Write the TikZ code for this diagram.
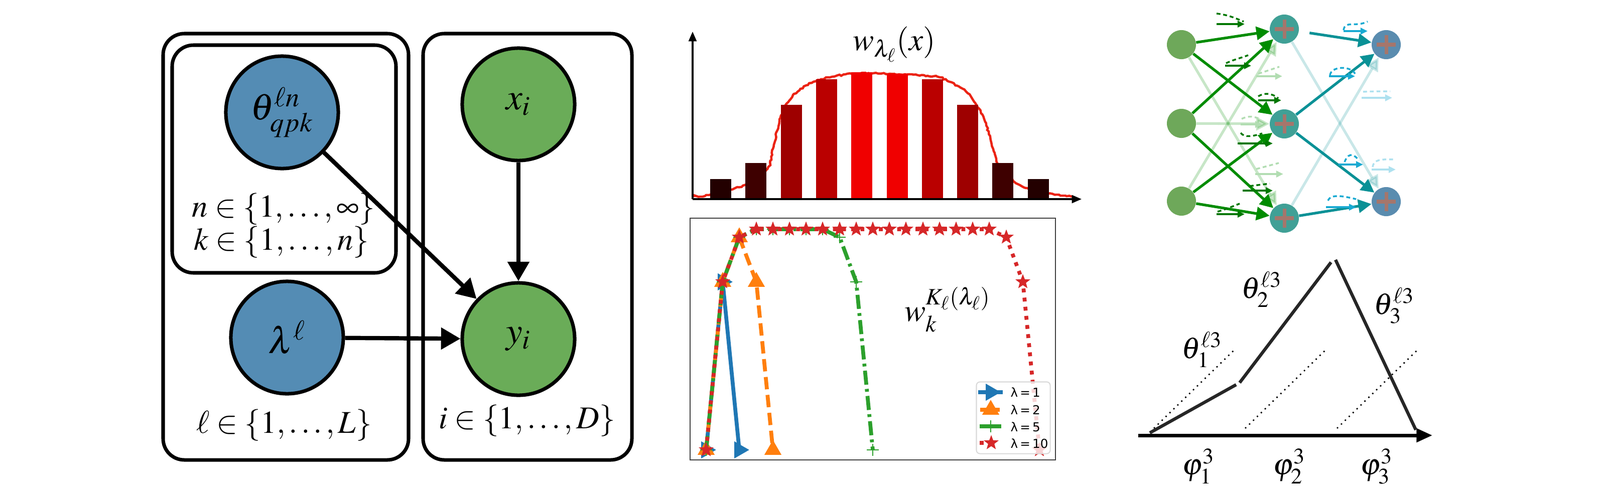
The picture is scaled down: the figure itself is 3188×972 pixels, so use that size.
\documentclass[tikz,border=0pt]{standalone}
\usepackage{mathptmx}
\usepackage[no-math]{fontspec}
\usetikzlibrary{arrows.meta,calc,positioning,shapes.geometric,decorations.pathmorphing,plotmarks}
\newfontfamily\legendfont{DejaVu Sans}
\definecolor{pgmblue}{RGB}{84,140,180}
\definecolor{pgmgreen}{RGB}{106,172,88}
\definecolor{barA}{RGB}{35,0,0}
\definecolor{barB}{RGB}{62,0,0}
\definecolor{barC}{RGB}{158,0,0}
\definecolor{barD}{RGB}{186,0,0}
\definecolor{barE}{RGB}{240,0,0}
\definecolor{fitred}{RGB}{235,35,20}
\definecolor{tabblue}{HTML}{1F77B4}
\definecolor{taborange}{HTML}{FF7F0E}
\definecolor{tabgreen}{HTML}{2CA02C}
\definecolor{tabred}{HTML}{D62728}
\definecolor{nnin}{RGB}{110,168,90}
\definecolor{nnhid}{RGB}{64,160,150}
\definecolor{nnout}{RGB}{90,140,175}
\definecolor{pluscol}{RGB}{165,118,108}
\definecolor{nngreen}{RGB}{0,140,0}
\definecolor{nnteal}{RGB}{10,145,150}
\definecolor{nncyan}{RGB}{25,170,210}
\pgfdeclareplotmark{fivestar}{%
  \pgfpathmoveto{\pgfpointpolar{90}{\pgfplotmarksize}}%
  \pgfpathlineto{\pgfpointpolar{126}{0.42\pgfplotmarksize}}%
  \pgfpathlineto{\pgfpointpolar{162}{\pgfplotmarksize}}%
  \pgfpathlineto{\pgfpointpolar{198}{0.42\pgfplotmarksize}}%
  \pgfpathlineto{\pgfpointpolar{234}{\pgfplotmarksize}}%
  \pgfpathlineto{\pgfpointpolar{270}{0.42\pgfplotmarksize}}%
  \pgfpathlineto{\pgfpointpolar{306}{\pgfplotmarksize}}%
  \pgfpathlineto{\pgfpointpolar{342}{0.42\pgfplotmarksize}}%
  \pgfpathlineto{\pgfpointpolar{18}{\pgfplotmarksize}}%
  \pgfpathlineto{\pgfpointpolar{54}{0.42\pgfplotmarksize}}%
  \pgfpathclose\pgfusepathqfillstroke}

\begin{document}
\begin{tikzpicture}[x=0.01cm, y=-0.01cm,
  pgmnode/.style={circle, draw, line width=2pt, minimum size=2.24cm, inner sep=0pt, font=\fontsize{21}{23}\selectfont},
  plate/.style={line width=2pt, rounded corners=12pt},
  pgmlabel/.style={font=\fontsize{18}{20}\selectfont},
  pgmarrow/.style={line width=2.4pt, -{Triangle[length=11pt,width=12pt]}},
  axisarrow/.style={line width=0.9pt, -{Triangle[length=5.5pt,width=4.5pt]}},
  bigmath/.style={font=\fontsize{18}{20}\selectfont},
  series/.style={line width=2.2pt},
  legtext/.style={anchor=west, inner sep=0pt, font=\legendfont\fontsize{7}{8}\selectfont},
  nnnode/.style={circle, minimum size=0.58cm, inner sep=0pt},
  plusmark/.style={path picture={\draw[pluscol, line width=2pt]
      ([xshift=-5.5pt]path picture bounding box.center) -- ([xshift=5.5pt]path picture bounding box.center)
      ([yshift=-5.5pt]path picture bounding box.center) -- ([yshift=5.5pt]path picture bounding box.center);}},
  strongedge/.style={line width=1.5pt, -{Triangle[length=7.5pt,width=7.5pt]}},
  fadededge/.style={line width=1.5pt, opacity=0.22, -{Triangle[length=7.5pt,width=7.5pt]}},
  gradarrow/.style={line width=1pt, -{Triangle[length=4pt,width=3.6pt]}},
  graddash/.style={line width=1pt, dash pattern=on 2.2pt off 1.6pt},
  labelmath/.style={inner sep=1pt, font=\fontsize{17}{19}\selectfont}]
\useasboundingbox (0,0) rectangle (3188,972);

% graphical model
\draw[plate] (325,67) rectangle (814,917);
\draw[plate] (343,90) rectangle (789,544);
\draw[plate] (843,67) rectangle (1259,917);
\node[pgmnode, fill=pgmblue] (theta) at (562,224) {$\theta^{\ell n}_{qpk}$};
\node[pgmnode, fill=pgmblue] (lambda) at (572,673) {$\lambda^{\ell}$};
\node[pgmnode, fill=pgmgreen] (xi) at (1033,208) {$x_i$};
\node[pgmnode, fill=pgmgreen] (yi) at (1033,676) {$y_i$};
\node[pgmlabel] (nrange) at (565,417) {$n\in\{1,\ldots,\infty\}$};
\node[pgmlabel] (krange) at (561,483) {$k\in\{1,\ldots,n\}$};
\node[pgmlabel] (lrange) at (566,848) {$\ell\in\{1,\ldots,L\}$};
\node[pgmlabel] (irange) at (1050,839) {$i\in\{1,\ldots,D\}$};
\draw[pgmarrow] (theta) -- (yi);
\draw[pgmarrow] (lambda) -- (yi);
\draw[pgmarrow] (xi) -- (yi);

% kernel weights
\coordinate (hO) at (1380,397);
\coordinate (hY) at (1380,63);
\coordinate (hX) at (2155,397);
\draw[fitred, line width=1.3pt, decorate, decoration={random steps, segment length=1.2pt, amplitude=0.4pt}]
  plot[smooth, tension=0.55] coordinates {(1383,393) (1415,388) (1486,368) (1529,337) (1540,297) (1553,243)
  (1567,207) (1589,183) (1621,163) (1664,152) (1702,147) (1773,147) (1860,152) (1892,163) (1925,183)
  (1946,210) (1963,243) (1979,297) (1990,330) (2028,367) (2076,383) (2136,392)};
\foreach \top/\col [count=\i] in {357/barA,325/barB,209/barC,158/barD,144/barE,147/barE,158/barD,209/barC,325/barB,357/barA}
  \fill[\col] ({1415+70.3*(\i-1)},\top) rectangle ++(42,{398-\top});
\draw[axisarrow] (hO) -- (hY);
\draw[axisarrow] (hO) -- (hX);
\node[bigmath] (wtitle) at (1782,88) {$w_{\lambda_\ell}(x)$};

% sampled weights
\draw[black!75, line width=0.7pt] (1375,435) rectangle (2103,917);
\draw[series, tabblue, mark=triangle*, mark size=3.4pt, mark options={rotate=-90, fill=tabblue}]
  plot coordinates {(1407,897) (1440,562) (1473,897)};
\draw[series, taborange, dash pattern=on 7pt off 3.2pt, mark=triangle*, mark size=3.4pt, mark options={solid, fill=taborange}]
  plot coordinates {(1407,897) (1440,562) (1473,473) (1507,562) (1540,897)};
\draw[series, tabgreen, dash pattern=on 8pt off 2.4pt on 1.6pt off 2.4pt, mark=+, mark size=3.4pt, mark options={solid, line width=0.8pt}]
  plot coordinates {(1407,897) (1440,562) (1473,473) (1507,457) (1540,457) (1573,457) (1606,457)
  (1639,457) (1673,473) (1706,562) (1739,897)};
\draw[series, tabred, dash pattern=on 2.2pt off 3pt, mark=fivestar, mark size=4pt, mark options={solid, line width=0.3pt, fill=tabred}]
  plot coordinates {(1407,897) (1440,562) (1473,473) (1507,457) (1540,457) (1573,457) (1606,457)
  (1639,457) (1673,457) (1706,457) (1739,457) (1772,457) (1805,457) (1839,457) (1872,457)
  (1905,457) (1938,457) (1971,457) (2005,473) (2038,562) (2071,897)};
\node[draw=black!15, line width=0.6pt, rounded corners=2pt, fill=white, fill opacity=0.8,
  minimum width=1.47cm, minimum height=1.43cm] (legend) at (2019,833) {};
\draw[series, tabblue, mark=triangle*, mark indices={2}, mark size=3.4pt, mark options={rotate=-90, fill=tabblue}]
  plot coordinates {(1949,782) (1974,782) (1998,782)};
\draw[series, taborange, mark=triangle*, mark indices={2}, mark size=3.4pt, mark options={fill=taborange}]
  plot coordinates {(1953,817) (1974,817) (1992,817)};
\draw[series, tabgreen, mark=+, mark indices={2}, mark size=3.4pt, mark options={line width=0.8pt}]
  plot coordinates {(1952,850) (1974,850) (1995,850)};
\draw[series, tabred, dash pattern=on 2.2pt off 3pt, mark=fivestar, mark indices={2}, mark size=4pt, mark options={solid, line width=0.3pt, fill=tabred}]
  plot coordinates {(1952,883) (1975,883)};
\node[legtext] (leg1) at (2013,782) {λ\,=\,1};
\node[legtext] (leg2) at (2013,817) {λ\,=\,2};
\node[legtext] (leg5) at (2013,851) {λ\,=\,5};
\node[legtext] (leg10) at (2013,884) {λ\,=\,10};
\node[bigmath] (wk) at (1888,617) {$w_k^{K_\ell(\lambda_\ell)}$};

% network
\node[nnnode, fill=nnin] (in1) at (2354,89) {};
\node[nnnode, fill=nnin] (in2) at (2354,246) {};
\node[nnnode, fill=nnin] (in3) at (2354,401) {};
\node[nnnode, fill=nnhid, plusmark] (h1) at (2559,58) {};
\node[nnnode, fill=nnhid, plusmark] (h2) at (2559,247) {};
\node[nnnode, fill=nnhid, plusmark] (h3) at (2559,435) {};
\node[nnnode, fill=nnout, plusmark] (o1) at (2762,89) {};
\node[nnnode, fill=nnout, plusmark] (o2) at (2762,402) {};
\draw[fadededge, nngreen] (in1) -- (h3);
\draw[fadededge, nngreen] (in2) -- (h2);
\draw[fadededge, nngreen] (in3) -- (h1);
\draw[fadededge, nnteal] (h1) -- (o2);
\draw[fadededge, nnteal] (h3) -- (o1);
\draw[strongedge, nngreen] (in1) -- (h1);
\draw[strongedge, nngreen] (in1) -- (h2);
\draw[strongedge, nngreen] (in2) -- (h1);
\draw[strongedge, nngreen] (in2) -- (h3);
\draw[strongedge, nngreen] (in3) -- (h2);
\draw[strongedge, nngreen] (in3) -- (h3);
\draw[strongedge, nnteal, shorten <=6pt] (h1) -- (o1);
\draw[strongedge, nnteal] (h2) -- (o1);
\draw[strongedge, nnteal] (h2) -- (o2);
\draw[strongedge, nnteal] (h3) -- (o2);
\foreach \xa/\xb/\yy/\cc in {2424/2480/48/nngreen!85!black, 2441/2493/131/nngreen!85!black, 2507/2553/200/nngreen!85!black,
    2466/2536/286/nngreen!85!black, 2476/2536/380/nngreen!85!black, 2424/2480/427/nngreen!85!black,
    2503/2555/152/nngreen!30, 2472/2515/248/nngreen!30, 2501/2557/347/nngreen!30,
    2677/2725/62/nncyan, 2648/2700/152/nncyan, 2667/2716/328/nncyan, 2642/2702/413/nncyan,
    2713/2774/195/nncyan!35, 2733/2781/338/nncyan!35}
  \draw[gradarrow, \cc] (\xa,\yy) -- (\xb,\yy);
\draw[graddash, nngreen!85!black] (2424,27) .. controls (2450,30) and (2465,38) .. (2478,43);
\draw[graddash, nngreen!85!black] (2443,126) .. controls (2460,118) and (2475,115) .. (2487,110);
\draw[graddash, nngreen!85!black] (2507,192) .. controls (2520,184) and (2535,186) .. (2547,196);
\draw[graddash, nngreen!85!black] (2472,265) .. controls (2480,275) and (2495,272) .. (2515,266);
\draw[graddash, nngreen!85!black] (2490,371) .. controls (2505,369) and (2515,368) .. (2530,366);
\draw[graddash, nngreen!85!black] (2426,422) .. controls (2440,418) and (2455,412) .. (2470,406);
\draw[graddash, nngreen!30] (2507,147) .. controls (2522,142) and (2535,138) .. (2549,133);
\draw[graddash, nngreen!30] (2474,237) .. controls (2488,230) and (2500,232) .. (2511,238);
\draw[graddash, nngreen!30] (2503,337) .. controls (2518,333) and (2533,329) .. (2548,325);
\draw[graddash, nncyan] (2677,60) .. controls (2680,40) and (2700,55) .. (2725,43);
\draw[graddash, nncyan] (2650,150) .. controls (2652,132) and (2690,130) .. (2700,147);
\draw[graddash, nncyan] (2679,323) .. controls (2688,300) and (2700,310) .. (2708,320);
\draw[graddash, nncyan] (2646,400) .. controls (2652,385) and (2680,392) .. (2702,397);
\draw[graddash, nncyan!35] (2716,183) .. controls (2735,182) and (2752,182) .. (2770,182);
\draw[graddash, nncyan!35] (2735,333) .. controls (2737,315) and (2760,318) .. (2781,318);

% piecewise linear
\coordinate (ax0) at (2268,868);
\coordinate (ax1) at (2854,868);
\coordinate (p0) at (2291,863);
\coordinate (p1) at (2463,767);
\coordinate (p2) at (2470,763);
\coordinate (p3) at (2652,523);
\coordinate (p4) at (2661,518);
\coordinate (p5) at (2821,857);
\foreach \xs in {2300,2482,2665}
  \draw[line width=1.1pt, line cap=round, dash pattern=on 0pt off 3.1pt] (\xs,853) -- ++(159,-155);
\draw[line width=2pt, -{Triangle[length=9pt,width=7.5pt]}] (ax0) -- (ax1);
\draw[line width=1.8pt, black!85] (p0) -- (p1);
\draw[line width=1.8pt, black!85] (p2) -- (p3);
\draw[line width=1.8pt, black!85] (p4) -- (p5);
\node[labelmath] (t1) at (2395,697) {$\theta_1^{\ell 3}$};
\node[labelmath] (t2) at (2514,577) {$\theta_2^{\ell 3}$};
\node[labelmath] (t3) at (2778,610) {$\theta_3^{\ell 3}$};
\node[labelmath] (f1) at (2388,930) {$\varphi_1^3$};
\node[labelmath] (f2) at (2569,930) {$\varphi_2^3$};
\node[labelmath] (f3) at (2743,930) {$\varphi_3^3$};
\end{tikzpicture}
\end{document}
